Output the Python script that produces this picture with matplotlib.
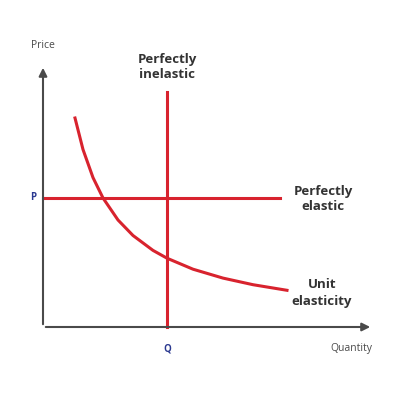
import matplotlib
matplotlib.use("Agg")
import matplotlib.pyplot as plt

plt.rcParams['font.family'] = ['Open Sans', 'DejaVu Sans']

# curve points, measured from the origin (pixels right / up)
curve_q = [32, 40, 50, 60, 75, 90, 110, 124, 150, 180, 210, 244]
curve_p = [209, 177.5, 149.4, 129, 107, 91.5, 76.6, 68.8, 57.8, 48.9, 42.3, 36.7]
p_level = 129
q_level = 124
horiz_end = 237
vert_top = 235

red = '#d8232e'
axis_col = '#4a4a4a'
label_col = '#2b3990'

fig = plt.figure(figsize=(4, 4), dpi=100)
ax = fig.add_axes([0, 0, 1, 1])
ax.set_xlim(-43, 357)
ax.set_ylim(-73, 327)
ax.axis('off')

# axes with arrows
ax.annotate('', xy=(0, 262), xytext=(0, 0),
            arrowprops=dict(arrowstyle='-|>', color=axis_col, lw=1.5, mutation_scale=12))
ax.annotate('', xy=(330, 0), xytext=(0, 0),
            arrowprops=dict(arrowstyle='-|>', color=axis_col, lw=1.5, mutation_scale=12))

ax.plot([0, horiz_end], [p_level, p_level], color=red, lw=2.2)
ax.plot([q_level, q_level], [0, vert_top], color=red, lw=2.2)
ax.plot(curve_q, curve_p, color=red, lw=2.2)

ax.text(-12, 282, 'Price', fontsize=7.5, color=axis_col, va='center')
ax.text(287, -22, 'Quantity', fontsize=7.5, color=axis_col, va='center', ha='left')
ax.text(-10, p_level, 'P', fontsize=7, color=label_col, fontweight='bold', ha='center', va='center')
ax.text(q_level, -22, 'Q', fontsize=7, color=label_col, fontweight='bold', ha='center', va='center')

tk = dict(fontsize=9.5, color='#333333', fontweight='bold', ha='center', va='center', linespacing=1.3)
ax.text(q_level, 260, 'Perfectly\ninelastic', **tk)
ax.text(280, 128, 'Perfectly\nelastic', **tk)
ax.text(279, 34, 'Unit\nelasticity', **tk)

fig.savefig('out.png', dpi=100)
